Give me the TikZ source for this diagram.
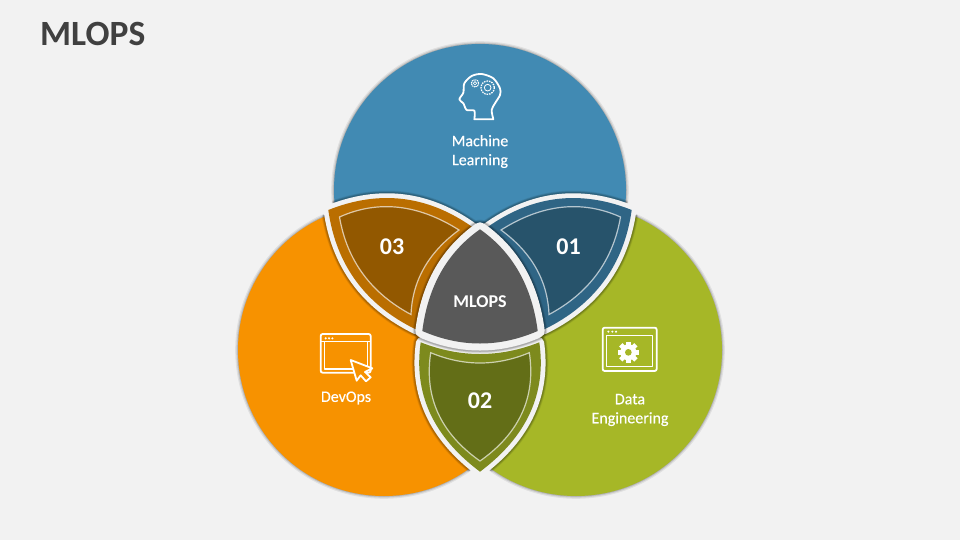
\documentclass[tikz,border=0pt]{standalone}
\usepackage{fontspec}
\setmainfont{Carlito}
\newfontface\semib{Carlito}[FakeBold=0.35]
\usetikzlibrary{calc}
\definecolor{bgc}{HTML}{F2F2F2}
\definecolor{bluec}{HTML}{418AB3}
\definecolor{orangec}{HTML}{F79200}
\definecolor{greenc}{HTML}{A6B727}
\definecolor{blueb}{HTML}{2F6585}
\definecolor{blued}{HTML}{27536B}
\definecolor{orangeb}{HTML}{BA6E00}
\definecolor{oranged}{HTML}{925800}
\definecolor{greenb}{HTML}{7D8A1D}
\definecolor{greend}{HTML}{636E17}
\definecolor{grayc}{HTML}{595959}
\definecolor{titlec}{HTML}{404040}
\newcommand{\arcthru}[3]{.. controls ($(#1)!1/3!(#3)+4/3*(#2)-2/3*(#1)-2/3*(#3)$) and ($(#1)!2/3!(#3)+4/3*(#2)-2/3*(#1)-2/3*(#3)$) .. (#3)}
\newcommand{\lens}[1]{(#1a) \arcthru{#1a}{#1ab}{#1b} \arcthru{#1b}{#1bc}{#1c} \arcthru{#1c}{#1ca}{#1a} -- cycle}
\newcommand{\setlens}[6]{\coordinate (#1a) at #2;\coordinate (#1ab) at #3;\coordinate (#1b) at #4;\coordinate (#1bc) at #5;\coordinate (#1c) at #6;}
\newcommand{\discunion}{(480,190) circle (148) (384,350) circle (148) (576,350) circle (148)}
\newcommand{\ringed}[2]{%
 \begin{scope}
  \clip \discunion;
  \path[draw=black,opacity=.08,line width=#2pt+5.5pt,line join=round] \lens{#1};
  \path[draw=black,opacity=.11,line width=#2pt+4pt,line join=round] \lens{#1};
  \path[draw=black,opacity=.14,line width=#2pt+2.5pt,line join=round] \lens{#1};
 \end{scope}
 \path[draw=bgc,line width=#2pt,line join=round] \lens{#1};
}
\newcommand{\layered}[3]{%
 \ringed{#1}{9.5}
 \path[fill=#2] \lens{#1};
 \path[fill=#3,draw=white,draw opacity=.65,line width=1.2pt,line join=miter] \lens{#1i};
}
\tikzset{
 x=1pt,y=-1pt,
 lbl/.style={text=white,font=\semib\fontsize{16}{19}\selectfont,align=center,inner sep=0pt},
 numb/.style={text=white,font=\bfseries\fontsize{24}{28}\selectfont,inner sep=0pt},
 icon/.style={draw=white,line width=1.8pt,line join=round},
 iconthin/.style={draw=white,line width=1.1pt,line join=round}
}
\begin{document}
\begin{tikzpicture}
\useasboundingbox (0,0) rectangle (960,540);
\fill[bgc] (0,0) rectangle (960,540);
\node[text=titlec,font=\bfseries\fontsize{35.5}{40}\selectfont,anchor=west,inner sep=0pt] (title) at (40,34) {MLOPS};
% discs
\foreach \c/\col in {{(480,190)}/bluec,{(384,350)}/orangec,{(576,350)}/greenc}{
 \fill[black,opacity=.07] \c circle (148.8);
 \fill[black,opacity=.10] \c circle (147.6);
 \fill[black,opacity=.14] \c circle (146.6);
 \fill[\col] \c circle (146);
}
% lens coordinates
\coordinate (ca) at (480,229.3);\coordinate (cab) at (519,272);\coordinate (cb) at (537.7,331);
\coordinate (cbc) at (480,343.5);\coordinate (cc) at (422.3,331);\coordinate (cca) at (441,272);
% 03
\setlens{t}{(328.3,210)}{(403,199)}{(473,227.5)}{(434,270)}{(416,329.5)}
\coordinate (tca) at (356,281);
\setlens{ti}{(339.5,217)}{(398.3,207.3)}{(459,230)}{(424,268)}{(411,314.5)}
\coordinate (tica) at (363,274);
% 01
\setlens{o}{(631.7,210)}{(557,199)}{(487,227.5)}{(526,270)}{(544,329.5)}
\coordinate (oca) at (604,281);
\setlens{oi}{(620.5,217)}{(561.7,207.3)}{(501,230)}{(536,268)}{(549,314.5)}
\coordinate (oica) at (597,274);
% 02
\setlens{d}{(420.7,342.3)}{(480,354)}{(539.3,342.3)}{(530,413)}{(480,471.7)}
\coordinate (dca) at (430,413);
\setlens{di}{(430.7,352.7)}{(480,363)}{(529.3,352.7)}{(522,413)}{(480,461)}
\coordinate (dica) at (438,413);
\layered{t}{orangeb}{oranged}
\layered{o}{blueb}{blued}
\layered{d}{greenb}{greend}
\ringed{c}{14}
\path[fill=grayc] \lens{c};
% text
\node[lbl] (ml) at (480,151.5) {Machine\\Learning};
\node[lbl] (dv) at (346,398) {DevOps};
\node[lbl] (de) at (630,410) {Data\\Engineering};
\node[numb] (n3) at (392,247) {03};
\node[numb] (n1) at (568.5,247) {01};
\node[numb] (n2) at (480,401) {02};
\node[text=white,font=\bfseries\fontsize{18}{20}\selectfont,inner sep=0pt] (cm) at (480,301.5) {MLOPS};
% head icon
\begin{scope}[shift={(440,60)},scale=1/3]
 \draw[icon] plot[smooth] coordinates {(103,178) (103,152) (80,150) (70,130) (58,118) (70,98) (73,70) (95,48) (125,42) (160,55) (180,85) (180,105) (165,130) (155,150) (160,178)} -- cycle;
 \draw[white,line width=1.1pt,dash pattern=on 1.2pt off .7pt] (105,70) circle (11);
 \draw[white,line width=.6pt] (105,70) circle (5);
 \draw[white,line width=1.3pt,dash pattern=on 1.5pt off 1pt] (143,83) circle (20);
 \draw[white,line width=.8pt] (143,83) circle (10);
\end{scope}
% devops icon
\begin{scope}[shift={(305,320)},scale=1/3]
 \draw[icon,rounded corners=2pt] (47,42) rectangle (197,158);
 \draw[iconthin] (47,65) -- (197,65);
 \draw[iconthin] (58,65) -- (58,147) -- (187,147) -- (187,65);
 \fill[white] (62,55) circle (3.5) (72,55) circle (3.5) (82,55) circle (3.5);
 \draw[icon,fill=orangec] (137,120) -- (202,145) -- (180,156) -- (197,172) -- (183,184) -- (167,166) -- (155,182) -- cycle;
\end{scope}
% data icon
\begin{scope}[shift={(590,315)},scale=1/3]
 \draw[icon,rounded corners=2pt] (38,38) rectangle (200,168);
 \draw[iconthin] (50,62) rectangle (187,155);
 \fill[white] (55,50) circle (3.5) (67,50) circle (3.5) (78,50) circle (3.5);
 \foreach \a in {0,45,...,315}{
  \fill[white,rotate around={\a:(115,112)}] (108,80) rectangle (122,92);
 }
 \fill[white] (115,112) circle (24);
 \fill[greenc] (115,112) circle (10);
\end{scope}
\end{tikzpicture}
\end{document}
